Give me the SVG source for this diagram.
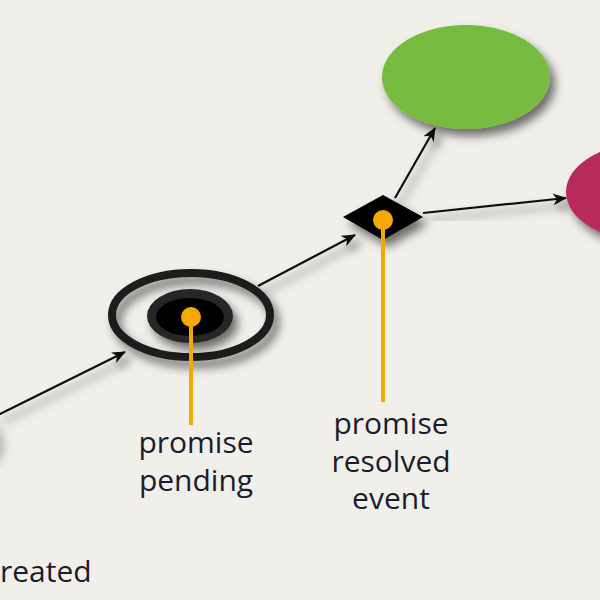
<svg xmlns="http://www.w3.org/2000/svg" width="600" height="600" viewBox="0 0 600 600">
<defs>
<filter id="sh" x="-30%" y="-30%" width="170%" height="180%">
<feDropShadow dx="5" dy="7" stdDeviation="5" flood-color="#000" flood-opacity="0.55"/>
</filter>
<filter id="blur" x="-100%" y="-100%" width="300%" height="300%">
<feGaussianBlur stdDeviation="5"/>
</filter>
<marker id="ah" viewBox="0 0 14 12" refX="13" refY="6" markerWidth="14" markerHeight="12" markerUnits="userSpaceOnUse" orient="auto">
<path d="M0,0 L14,6 L0,12 L4,6 Z" fill="#111"/>
</marker>
<style>
.lbl{font-family:"Open Sans","Liberation Sans",sans-serif;font-size:30px;fill:#1c1c2c;text-anchor:middle}
.edge{stroke:#111;stroke-width:2.2;fill:none;marker-end:url(#ah)}
.pin{stroke:#f5a800;stroke-width:4;fill:none}
.dot{fill:#f5a800}
</style>
</defs>
<rect width="600" height="600" fill="#f0efea"/>
<g id="offscreen-node">
<ellipse cx="-10" cy="445" rx="14" ry="20" fill="#888" opacity="0.6" filter="url(#blur)"/>
</g>
<g id="connectors">
<line class="edge" x1="-2" y1="415" x2="125" y2="352" filter="url(#sh)"/>
<line class="edge" x1="258" y1="286" x2="355" y2="235" filter="url(#sh)"/>
<line class="edge" x1="395" y1="198" x2="435" y2="128" filter="url(#sh)"/>
<line class="edge" x1="423" y1="213" x2="566" y2="198" filter="url(#sh)"/>
</g>
<g id="resolved-node">
<ellipse cx="466" cy="77" rx="84" ry="52" fill="#77bb41" filter="url(#sh)"/>
</g>
<g id="rejected-node">
<ellipse cx="650" cy="192" rx="84" ry="50" fill="#b92a5b" filter="url(#sh)"/>
</g>
<g id="pending-node">
<ellipse cx="191" cy="315" rx="79" ry="42" fill="none" stroke="#1a1a1a" stroke-width="8" filter="url(#sh)"/>
<ellipse cx="190" cy="316" rx="43" ry="27" fill="#262626" filter="url(#sh)"/>
<ellipse cx="190" cy="317" rx="34" ry="19" fill="#000"/>
<line class="pin" x1="191" y1="317" x2="191" y2="425"/>
<circle class="dot" cx="191" cy="317" r="10"/>
<text class="lbl" x="196" y="453">promise</text>
<text class="lbl" x="196" y="491">pending</text>
</g>
<g id="event-node">
<path d="M343,217 L383,195 L423,217 L383,240 Z" fill="#000" filter="url(#sh)"/>
<line class="pin" x1="383" y1="220" x2="383" y2="402"/>
<circle class="dot" cx="383" cy="220" r="10"/>
<text class="lbl" x="391" y="434">promise</text>
<text class="lbl" x="391" y="472">resolved</text>
<text class="lbl" x="391" y="509">event</text>
</g>
<g id="created-label">
<text class="lbl" x="0" y="582" style="text-anchor:start">reated</text>
</g>
</svg>
